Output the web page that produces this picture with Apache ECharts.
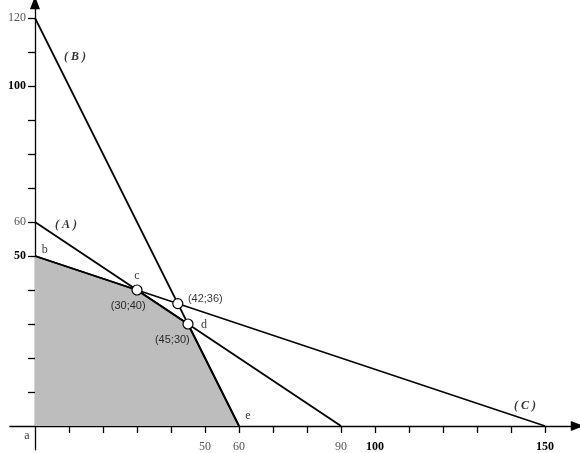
<!DOCTYPE html>
<html><head><meta charset="utf-8">
<script src="https://cdn.jsdelivr.net/npm/echarts@6/dist/echarts.min.js"></script>
<style>html,body{margin:0;padding:0;background:#fff}#c{width:580px;height:453px}</style>
</head><body><div id="c"></div>
<script>
// constraint lines
const lineA = [[0, 60], [90, 0]];
const lineB = [[0, 120], [60, 0]];
const lineC = [[0, 50], [150, 0]];
// feasible region boundary (filled down to y = 0)
const region = [[0, 50], [30, 40], [45, 30], [60, 0]];
// marked intersection points
const vertices = [[30, 40], [42, 36], [45, 30]];
// ticks and tick labels
const xTicks = [10, 20, 30, 40, 50, 60, 70, 80, 90, 100, 110, 120, 130, 140, 150];
const yTicks = [10, 20, 30, 40, 50, 60, 70, 80, 90, 100, 110, 120];
const xTickLabels = [50, 60, 90, 100, 150];
const xBoldLabels = [100, 150];
const yTickLabels = [50, 60, 100, 120];
const yBoldLabels = [50, 100];
// annotation texts anchored in data coordinates
const eqLabels = [[11.8, 108.5, '( B )'], [9.1, 59.1, '( A )'], [144.1, 5.9, '( C )']];
const pointLabels = [[2.9, 51.8, 'b'], [30, 44.1, 'c'], [49.7, 29.7, 'd'], [62.6, 2.9, 'e'], [-2.4, -2.9, 'a']];
const coordLabels = [[27.4, 35.3, '(30;40)'], [50.1, 37.4, '(42;36)'], [40.4, 25.3, '(45;30)']];

const X_MIN = -7.4, X_MAX = 159.5, Y_MIN = -7, Y_MAX = 124.5;
const PX = 3.4;
const gridLeft = 35 + X_MIN * PX;
const gridWidth = (X_MAX - X_MIN) * PX;
const gridTop = 426 - Y_MAX * PX;
const gridHeight = (Y_MAX - Y_MIN) * PX;

const serif = '"Liberation Serif", "Times New Roman", serif';
const sans = '"Liberation Sans", Arial, sans-serif';

function textSeries(data, style) {
  return {
    type: 'scatter', data: data, symbolSize: 0, silent: true, z: 10,
    label: Object.assign({show: true, position: 'inside', formatter: p => p.data[2]}, style)
  };
}
function lineSeries(data) {
  return {type: 'line', data: data, symbol: 'none', silent: true, z: 3,
    lineStyle: {color: '#000', width: 1.7}};
}
const rich = {b: {fontWeight: 'bold', color: '#000', fontFamily: serif, fontSize: 12},
              n: {color: '#555', fontFamily: serif, fontSize: 12}};

const chart = echarts.init(document.getElementById('c'), null, {renderer: 'canvas'});
chart.setOption({
  animation: false,
  backgroundColor: '#fff',
  grid: {left: gridLeft, top: gridTop, width: gridWidth, height: gridHeight, outerBoundsMode: 'none'},
  xAxis: {
    type: 'value', min: X_MIN, max: X_MAX, position: 'bottom',
    offset: -(0 - Y_MIN) * PX,
    splitLine: {show: false},
    axisLine: {onZero: false, symbol: ['none', 'triangle'], symbolSize: [10, 13],
      lineStyle: {color: '#000', width: 1.3}},
    axisTick: {show: true, customValues: xTicks, length: 7, lineStyle: {color: '#000', width: 1.3}},
    axisLabel: {
      customValues: xTickLabels, margin: 15, fontFamily: serif, fontSize: 12, color: '#555',
      formatter: v => xBoldLabels.includes(v) ? '{b|' + v + '}' : '{n|' + v + '}',
      rich: rich
    }
  },
  yAxis: {
    type: 'value', min: Y_MIN, max: Y_MAX, position: 'left',
    offset: -(0 - X_MIN) * PX,
    splitLine: {show: false},
    axisLine: {onZero: false, symbol: ['none', 'triangle'], symbolSize: [10, 13],
      lineStyle: {color: '#000', width: 1.3}},
    axisTick: {show: true, customValues: yTicks, length: 7, lineStyle: {color: '#000', width: 1.3}},
    axisLabel: {
      customValues: yTickLabels, margin: 9, fontFamily: serif, fontSize: 12, color: '#555',
      formatter: v => yBoldLabels.includes(v) ? '{b|' + v + '}' : '{n|' + v + '}',
      rich: rich
    }
  },
  series: [
    {type: 'line', data: region, symbol: 'none', silent: true, z: 2,
      lineStyle: {color: '#000', width: 1.7},
      areaStyle: {color: '#bdbdbd', opacity: 1}},
    lineSeries(lineA),
    lineSeries(lineB),
    lineSeries(lineC),
    {type: 'scatter', data: vertices, symbol: 'circle', symbolSize: 10, silent: true, z: 5,
      itemStyle: {color: '#fff', borderColor: '#000', borderWidth: 1.2, opacity: 1}},
    textSeries(eqLabels, {fontFamily: serif, fontSize: 12, fontWeight: 'bold', fontStyle: 'italic', color: '#000'}),
    textSeries(pointLabels, {fontFamily: serif, fontSize: 12, color: '#000'}),
    textSeries(coordLabels, {fontFamily: sans, fontSize: 11, color: '#000'})
  ]
});
</script>
</body></html>
